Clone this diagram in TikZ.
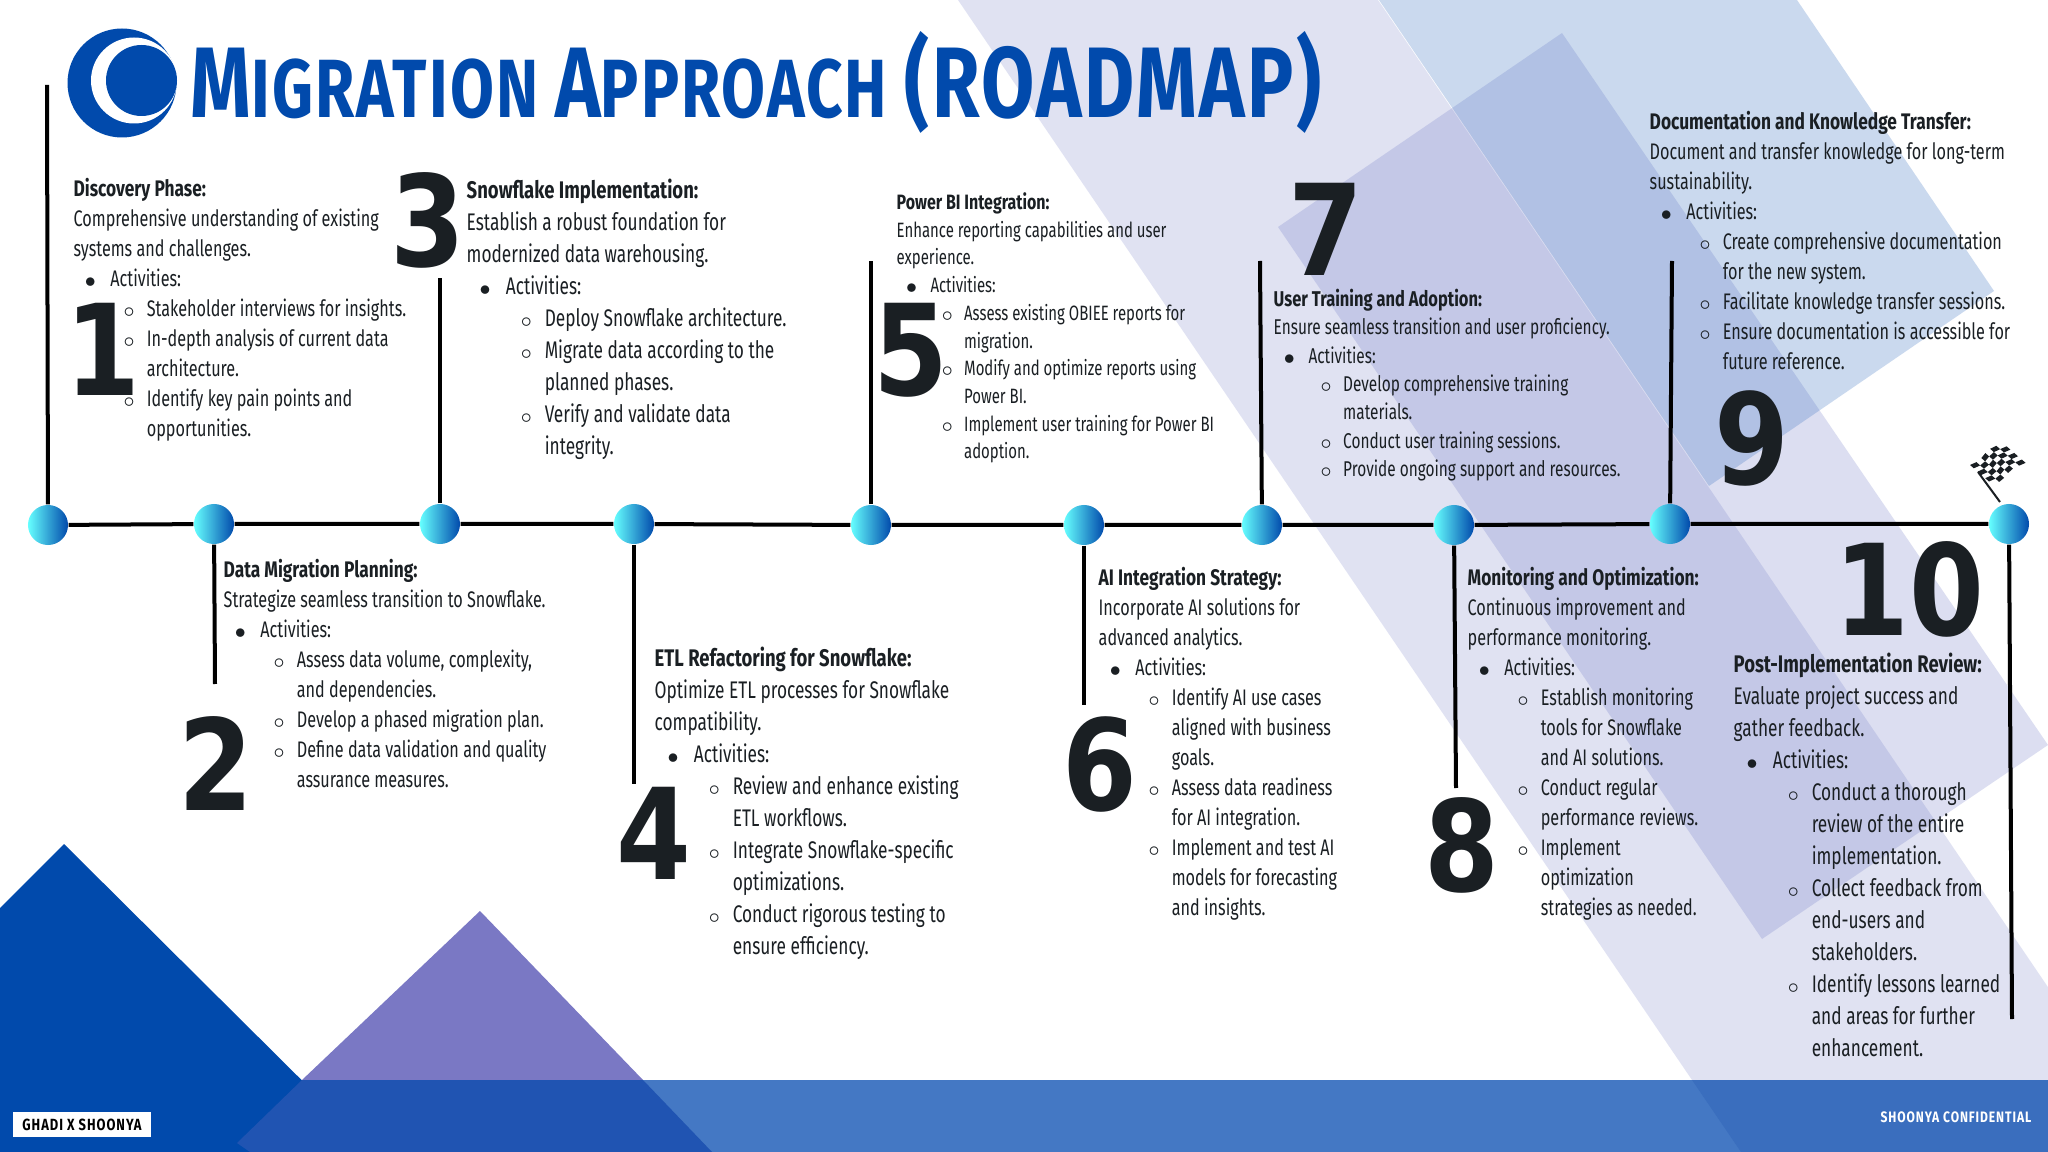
\documentclass[tikz,border=0pt]{standalone}
\usepackage{fontspec}
\setmainfont[FakeStretch=0.72,BoldFeatures={FakeStretch=0.77}]{Fira Sans}
\newfontfamily\numfont[FakeStretch=0.85]{DejaVu Sans}
\newfontfamily\titlefont[FakeStretch=0.77,LetterSpace=2.5]{Fira Sans}
\newfontfamily\tagfont[FakeStretch=0.8,LetterSpace=6]{Fira Sans}
\definecolor{royalblue}{HTML}{014AAC}
\definecolor{inkblack}{HTML}{1A1F23}
\definecolor{periwinkle}{HTML}{7A78C4}
\definecolor{bandtint}{HTML}{6E78C6}
\definecolor{footerblue}{HTML}{4478C4}
\definecolor{footerdeep}{HTML}{3A6EBE}
\definecolor{overlapblue}{HTML}{2054B2}
\newcommand{\lvlone}[1]{\hspace*{1.63em}\llap{$\scriptstyle\bullet$\hspace{.6em}}#1}
\newcommand{\lvltwo}[1]{\hspace*{3.25em}\llap{$\scriptstyle\circ$\hspace{.5em}}#1}
\newcommand{\lvlcont}[1]{\hspace*{3.25em}#1}
\newcommand{\phasehead}[1]{\textbf{#1}}
\tikzset{
  phasetext/.style={anchor=north west,inner sep=0pt,align=left,text=inkblack},
  sizea/.style={phasetext,font=\fontsize{6.4}{8.53}\selectfont},
  sizeb/.style={phasetext,font=\fontsize{6.83}{9.1}\selectfont},
  sizec/.style={phasetext,font=\fontsize{5.9}{7.88}\selectfont},
  sized/.style={phasetext,font=\fontsize{6.08}{8.1}\selectfont},
  bignum/.style={inner sep=0pt,text=inkblack,font=\fontsize{36}{36}\numfont\bfseries},
  tldot/.style={circle,minimum size=0.4cm,inner sep=0pt,left color=cyan!60!white,right color=royalblue},
  tlline/.style={line width=0.04cm,black},
}
\begin{document}
\begin{tikzpicture}[x=0.01cm,y=-0.01cm]
        \useasboundingbox (0,0) rectangle (2048,1152);
        \clip (0,0) rectangle (2048,1152);
        % Background bands
        \fill [white] (0,0) rectangle (2048,1152);
        \fill [bandtint,fill opacity=0.21] (958,0) -- (1378,0) -- (2111,1080) -- (1692,1080) -- cycle;
        \fill [bandtint,fill opacity=0.24] (1562,33) -- (1278,227) -- (1762,939) -- (2048,745) -- cycle;
        \fill [footerblue,fill opacity=0.28] (1379,0) -- (1797,0) -- (1994,291) -- (1709,486) -- cycle;

        % Footer and triangles
        \fill [footerblue] (0,1080) rectangle (2048,1152);
        \fill [footerdeep] (1692,1080) -- (1741,1152) -- (2048,1152) -- (2048,1080) -- cycle;
        \fill [royalblue] (64,844) -- (374,1152) -- (0,1152) -- (0,908) -- cycle;
        \fill [periwinkle] (480,911) -- (643,1080) -- (302,1080) -- cycle;
        \fill [overlapblue] (302,1080) -- (643,1080) -- (712,1152) -- (250,1152) -- (237,1143) -- cycle;

        % Logo
        \fill [royalblue] (122,83) circle (54.5);
        \fill [white] (134,80.5) circle (43);
        \fill [royalblue] (141.5,80.5) circle (35.5);

        % Title
        \node [anchor=base west,inner sep=0pt,text=royalblue] (title) at (190,118)
          {\titlefont\bfseries\fontsize{28.5}{30}\selectfont M\fontsize{23.5}{30}\selectfont IGRATION
           \fontsize{28.5}{30}\selectfont A\fontsize{23.5}{30}\selectfont PPROACH
           \fontsize{28.5}{30}\selectfont (ROADMAP)};

        % Timeline dots
        \node [tldot] (dot1) at (48,525) {};
        \node [tldot] (dot2) at (214,524) {};
        \node [tldot] (dot3) at (440,524) {};
        \node [tldot] (dot4) at (634,524) {};
        \node [tldot] (dot5) at (871,525) {};
        \node [tldot] (dot6) at (1084,525) {};
        \node [tldot] (dot7) at (1262,525) {};
        \node [tldot] (dot8) at (1454,525) {};
        \node [tldot] (dot9) at (1670,524) {};
        \node [tldot] (dot10) at (2009,524) {};

        % Line ends
        \coordinate (end1) at (47,85);
        \coordinate (end2) at (215,684);
        \coordinate (end3) at (440,278);
        \coordinate (end4) at (634,784);
        \coordinate (end5) at (871,261);
        \coordinate (end6) at (1084,705);
        \coordinate (end7) at (1260,261);
        \coordinate (end8) at (1456,788);
        \coordinate (end9) at (1672,261);
        \coordinate (end10) at (2012,1019);

        % Drawing timeline
        \draw [tlline] (dot1) -- (dot2) -- (dot3) -- (dot4) -- (dot5) -- (dot6) -- (dot7) -- (dot8) -- (dot9) -- (dot10);
        \foreach \n in {1,...,10} {
          \draw [tlline] (dot\n) -- (end\n);
        }

        % Numbers
        \node [bignum] (num1) at (103,349) {1};
        \node [bignum] (num2) at (216,764) {2};
        \node [bignum] (num3) at (428,220) {3};
        \node [bignum] (num4) at (654,833) {4};
        \node [bignum] (num5) at (911,350) {5};
        \node [bignum] (num6) at (1100,764) {6};
        \node [bignum] (num7) at (1326,229) {7};
        \node [bignum] (num8) at (1462,845) {8};
        \node [bignum] (num9) at (1752,438) {9};
        \node [bignum] (num10) at (1909,589) {10};

        % Phase texts
        \node [sizea] (phase1) at (73,177.5) {\phasehead{Discovery Phase:}\\
          Comprehensive understanding of existing\\
          systems and challenges.\\
          \lvlone{Activities:}\\
          \lvltwo{Stakeholder interviews for insights.}\\
          \lvltwo{In-depth analysis of current data}\\
          \lvlcont{architecture.}\\
          \lvltwo{Identify key pain points and}\\
          \lvlcont{opportunities.}};
        \node [sizea] (phase2) at (223,558.5) {\phasehead{Data Migration Planning:}\\
          Strategize seamless transition to Snowflake.\\
          \lvlone{Activities:}\\
          \lvltwo{Assess data volume, complexity,}\\
          \lvlcont{and dependencies.}\\
          \lvltwo{Develop a phased migration plan.}\\
          \lvltwo{Define data validation and quality}\\
          \lvlcont{assurance measures.}};
        \node [sizeb] (phase3) at (466,178) {\phasehead{Snowflake Implementation:}\\
          Establish a robust foundation for\\
          modernized data warehousing.\\
          \lvlone{Activities:}\\
          \lvltwo{Deploy Snowflake architecture.}\\
          \lvltwo{Migrate data according to the}\\
          \lvlcont{planned phases.}\\
          \lvltwo{Verify and validate data}\\
          \lvlcont{integrity.}};
        \node [sizeb] (phase4) at (654,646) {\phasehead{ETL Refactoring for Snowflake:}\\
          Optimize ETL processes for Snowflake\\
          compatibility.\\
          \lvlone{Activities:}\\
          \lvltwo{Review and enhance existing}\\
          \lvlcont{ETL workflows.}\\
          \lvltwo{Integrate Snowflake-specific}\\
          \lvlcont{optimizations.}\\
          \lvltwo{Conduct rigorous testing to}\\
          \lvlcont{ensure efficiency.}};
        \node [sizec] (phase5) at (896,192) {\phasehead{Power BI Integration:}\\
          Enhance reporting capabilities and user\\
          experience.\\
          \lvlone{Activities:}\\
          \lvltwo{Assess existing OBIEE reports for}\\
          \lvlcont{migration.}\\
          \lvltwo{Modify and optimize reports using}\\
          \lvlcont{Power BI.}\\
          \lvltwo{Implement user training for Power BI}\\
          \lvlcont{adoption.}};
        \node [sizea] (phase6) at (1098,566.5) {\phasehead{AI Integration Strategy:}\\
          Incorporate AI solutions for\\
          advanced analytics.\\
          \lvlone{Activities:}\\
          \lvltwo{Identify AI use cases}\\
          \lvlcont{aligned with business}\\
          \lvlcont{goals.}\\
          \lvltwo{Assess data readiness}\\
          \lvlcont{for AI integration.}\\
          \lvltwo{Implement and test AI}\\
          \lvlcont{models for forecasting}\\
          \lvlcont{and insights.}};
        \node [sized] (phase7) at (1273,288) {\phasehead{User Training and Adoption:}\\
          Ensure seamless transition and user proficiency.\\
          \lvlone{Activities:}\\
          \lvltwo{Develop comprehensive training}\\
          \lvlcont{materials.}\\
          \lvltwo{Conduct user training sessions.}\\
          \lvltwo{Provide ongoing support and resources.}};
        \node [sizea] (phase8) at (1467,566.5) {\phasehead{Monitoring and Optimization:}\\
          Continuous improvement and\\
          performance monitoring.\\
          \lvlone{Activities:}\\
          \lvltwo{Establish monitoring}\\
          \lvlcont{tools for Snowflake}\\
          \lvlcont{and AI solutions.}\\
          \lvltwo{Conduct regular}\\
          \lvlcont{performance reviews.}\\
          \lvltwo{Implement}\\
          \lvlcont{optimization}\\
          \lvlcont{strategies as needed.}};
        \node [sizea] (phase9) at (1649,110.5) {\phasehead{Documentation and Knowledge Transfer:}\\
          Document and transfer knowledge for long-term\\
          sustainability.\\
          \lvlone{Activities:}\\
          \lvltwo{Create comprehensive documentation}\\
          \lvlcont{for the new system.}\\
          \lvltwo{Facilitate knowledge transfer sessions.}\\
          \lvltwo{Ensure documentation is accessible for}\\
          \lvlcont{future reference.}};
        \node [sizeb] (phase10) at (1733,652.5) {\phasehead{Post-Implementation Review:}\\
          Evaluate project success and\\
          gather feedback.\\
          \lvlone{Activities:}\\
          \lvltwo{Conduct a thorough}\\
          \lvlcont{review of the entire}\\
          \lvlcont{implementation.}\\
          \lvltwo{Collect feedback from}\\
          \lvlcont{end-users and}\\
          \lvlcont{stakeholders.}\\
          \lvltwo{Identify lessons learned}\\
          \lvlcont{and areas for further}\\
          \lvlcont{enhancement.}};

        % Checkered flag
        \coordinate (flagbase) at (2000,502);
        \coordinate (flagfoot) at (1978,472);
        \draw [line width=0.02cm,inkblack] (flagbase) -- (flagfoot);
        \begin{scope}[shift={(1970,465)},x={(0.053cm,0.038cm)},y={(0.038cm,-0.033cm)}]
          \foreach \i in {0,...,5} {
            \foreach \j in {0,...,5} {
              \pgfmathparse{int(mod(\i+\j,2))}
              \ifnum\pgfmathresult=0
                \fill [inkblack] (\i,{\j+.3*sin(\i*70)}) -- ({\i+1},{\j+.3*sin((\i+1)*70)}) -- ({\i+1},{\j+1+.3*sin((\i+1)*70)}) -- (\i,{\j+1+.3*sin(\i*70)}) -- cycle;
              \fi
            }
          }
        \end{scope}

        % Footer labels
        \node [fill=white,minimum width=1.38cm,minimum height=0.25cm,inner sep=0pt,font=\tagfont\fontsize{4.6}{5}\selectfont\bfseries,text=black] (badge) at (82,1124.5) {GHADI X SHOONYA};
        \node [anchor=east,inner sep=0pt,font=\tagfont\fontsize{4.3}{5}\selectfont\bfseries,text=white] (confidential) at (2032,1117) {SHOONYA CONFIDENTIAL};
\end{tikzpicture}
\end{document}
